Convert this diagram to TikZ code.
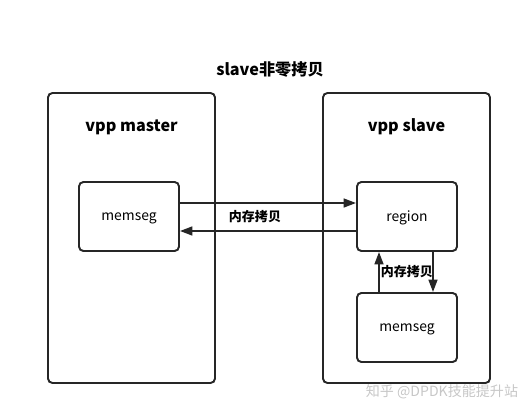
\documentclass[tikz,border=0pt]{standalone}
\usepackage{fontspec}
\setmainfont{Noto Sans CJK SC}
\usetikzlibrary{arrows.meta,positioning}

\begin{document}
\begin{tikzpicture}[x=0.02cm,y=-0.02cm,
    proc/.style={draw=black!85,line width=1.1pt,rounded corners=2.5pt},
    big/.style={proc,minimum width=3.34cm,minimum height=5.8cm},
    small/.style={proc,minimum width=2cm,minimum height=1.38cm,text depth=0pt,font=\fontsize{7.9}{9}\selectfont},
    head/.style={font=\fontsize{9.2}{11}\selectfont\bfseries},
    copylbl/.style={font=\fontsize{7.4}{9}\selectfont\bfseries,inner sep=1pt},
    link/.style={draw=black!85,line width=1.1pt,-{Triangle[length=7pt,width=5pt]}}]
    \useasboundingbox (0,0) rectangle (522,416);

    \node[head] (title) at (270,69) {slave非零拷贝};

    \node[big] (master) at (131.5,238) {};
    \node[big] (slave) at (406.5,238) {};
    \node[head] (mastername) at ([yshift=-0.7cm]master.north) {vpp master};
    \node[head] (slavename) at ([yshift=-0.7cm]slave.north) {vpp slave};

    \node[small] (mmem) at (129,216.5) {memseg};
    \node[small] (region) at (407,216.5) {region};
    \node[small] (smem) at (407,327.5) {memseg};

    \draw[link] ([yshift=0.27cm]mmem.east) -- ([yshift=0.27cm]region.west);
    \draw[link] ([yshift=-0.29cm]region.west) -- ([yshift=-0.29cm]mmem.east);
    \node[copylbl] (copy1) at (255,217) {内存拷贝};

    \draw[link] ([xshift=-0.56cm]smem.north) -- ([xshift=-0.56cm]region.south);
    \draw[link] ([xshift=0.52cm]region.south) -- ([xshift=0.52cm]smem.north);
    \node[copylbl] (copy2) at (407,272) {内存拷贝};

    % watermark
    \node[text=black!22,font=\fontsize{8}{9}\selectfont] (mark) at (442,392) {知乎 @DPDK技能提升站};
\end{tikzpicture}
\end{document}
